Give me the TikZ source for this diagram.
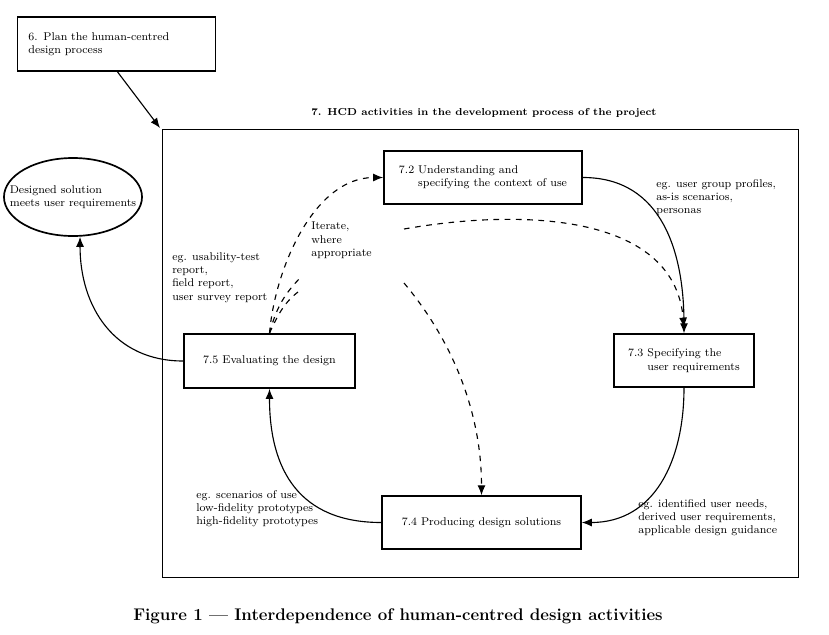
\documentclass[tikz,border=0pt]{standalone}
\usepackage{tikz}
\usetikzlibrary{arrows.meta,shapes.geometric}
\tikzset{
	activity/.style={draw,very thick,minimum width=5cm,minimum height=1.3cm,font=\footnotesize,align=left},%
	flow/.style={thick,-{Latex[length=2.5mm,width=2mm]}},%
	iterate/.style={thick,dashed,dash pattern=on 4pt off 4pt},%
	note/.style={font=\footnotesize,align=left,anchor=north west,inner sep=0pt},%
}
\begin{document}
\begin{tikzpicture}[x=0.025cm,y=-0.025cm]
	\useasboundingbox (0,0) rectangle (829,634);
	% Planning {{{
	\node[activity,minimum width=4.95cm,minimum height=1.35cm,text width=4.4cm] (plan) at (116.5,44) {6. Plan the human-centred\\design process};
	\node[draw,thin,minimum width=15.9cm,minimum height=11.2cm] (frame) at (480,353) {};
	\node[font=\fontsize{7.2}{9}\selectfont\bfseries] (title) at (484,113) {7. HCD activities in the development process of the project};
	\coordinate (framecorner) at (160,128);
	\draw[flow] (plan.south) ++(1,0) coordinate (planout) (planout) -- (framecorner);
	% }}}
	% Activities {{{
	\node[draw,very thick,ellipse,inner sep=0pt,minimum width=3.45cm,minimum height=1.95cm] (solution) at (73,197) {};
	\node[font=\footnotesize,align=left,inner sep=0pt] (solutiontext) at (73,197) {Designed solution\\meets user requirements};
	\node[activity,minimum width=4.95cm,minimum height=1.32cm] (understand) at (483,177.5) {7.2 Understanding and\\\quad\ \ specifying the context of use};
	\node[activity,minimum width=3.5cm,minimum height=1.32cm] (specify) at (684,360.5) {7.3 Specifying the\\\quad\ \ user requirements};
	\node[activity,minimum width=4.97cm,minimum height=1.32cm] (produce) at (481.5,522.5) {7.4 Producing design solutions};
	\node[activity,minimum width=4.27cm,minimum height=1.35cm] (evaluate) at (269.5,361) {7.5 Evaluating the design};
	% }}}
	% Cycle {{{
	\draw[flow] (understand.east) to[out=0,in=90,looseness=1.1] (specify.north);
	\draw[flow] (specify.south) to[out=-90,in=0,looseness=1.1] (produce.east);
	\draw[flow] (produce.west) to[out=180,in=-90,looseness=1.2] (evaluate.south);
	\draw[flow] (evaluate.west) to[out=180,in=-90,looseness=1.1] ([xshift=5pt]solution.south);
	% }}}
	% Iteration {{{
	\coordinate (fadeA) at (302,276);
	\coordinate (fadeB) at (302,289);
	\coordinate (againA) at (404,229);
	\coordinate (againB) at (404,283);
	\draw[iterate,-{Latex[length=2.5mm,width=2mm]}] (evaluate.north) to[out=85,in=180,looseness=0.9] (understand.west);
	\draw[iterate] (evaluate.north) to[out=75,in=225] (fadeA);
	\draw[iterate] (evaluate.north) to[out=65,in=215] (fadeB);
	\draw[iterate,-{Latex[length=2.5mm,width=2mm]}] (againA) to[out=10,in=95,looseness=1.0] ([yshift=4pt]specify.north);
	\draw[iterate,-{Latex[length=2.5mm,width=2mm]}] (againB) to[out=-50,in=90,looseness=0.9] (produce.north);
	% }}}
	% Notes {{{
	\node[note] (itnote) at (311,222) {Iterate,\\where\\appropriate};
	\node[note] (ctxnote) at (656,179) {eg. user group profiles,\\as-is scenarios,\\personas};
	\node[note] (evalnote) at (172,252) {eg. usability-test\\report,\\field report,\\user survey report};
	\node[note] (prodnote) at (196,490) {eg. scenarios of use\\low-fidelity prototypes\\high-fidelity prototypes};
	\node[note] (reqnote) at (638,499) {eg. identified user needs,\\derived user requirements,\\applicable design guidance};
	\node[font=\large\bfseries] (caption) at (398,616) {Figure 1 --- Interdependence of human-centred design activities};
	% }}}
\end{tikzpicture}
\end{document}
